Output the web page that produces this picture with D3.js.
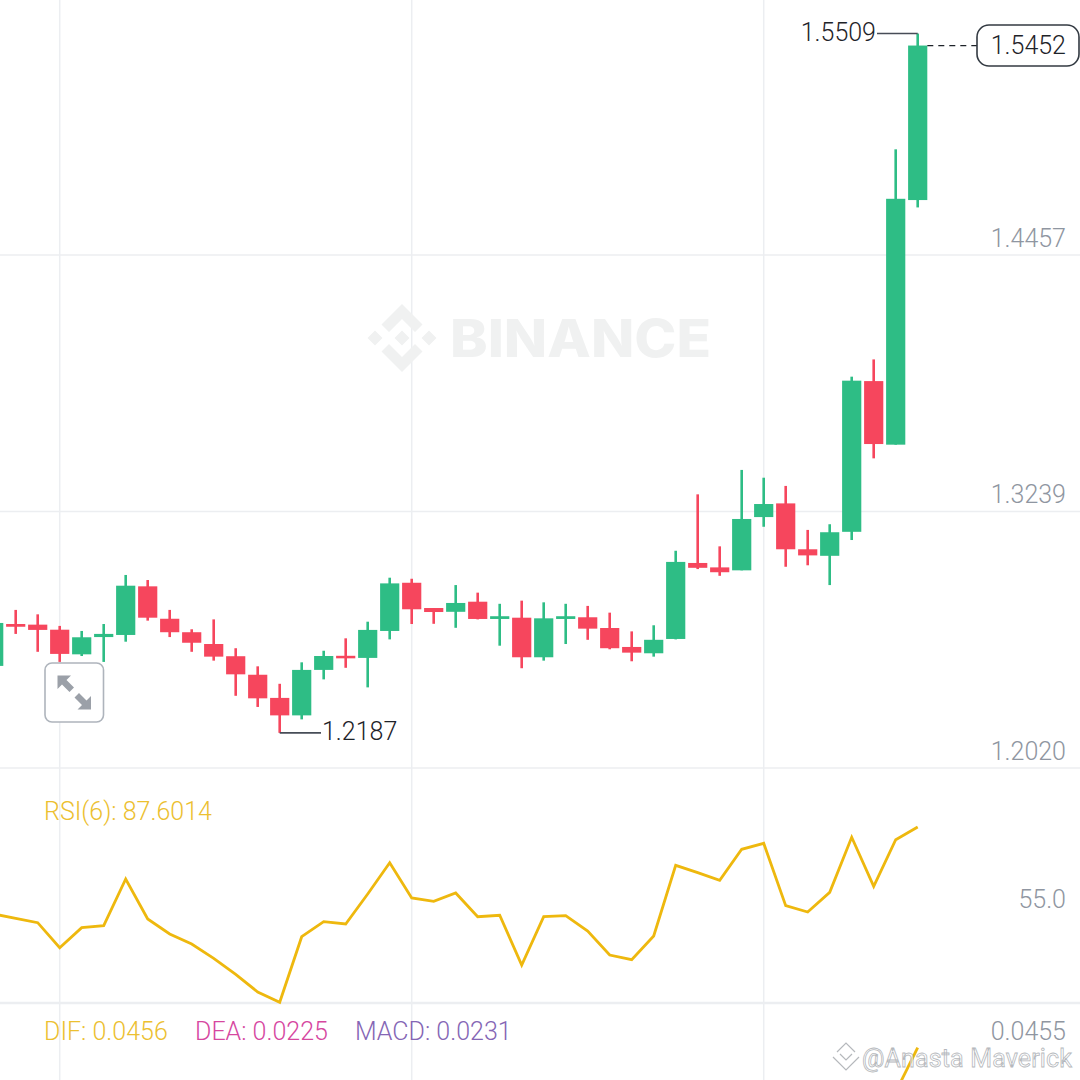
<!DOCTYPE html>
<html>
<head>
<meta charset="utf-8">
<style>
  html, body { margin: 0; padding: 0; background: #fff; overflow: hidden; }
  svg { display: block; }
  text { font-family: Roboto, sans-serif; font-weight: 300; }
</style>
<script src="https://cdn.jsdelivr.net/npm/d3@7"></script>
</head>
<body>
<script>
// candle values, oldest first
const opens = [1.2505,1.2704,1.2701,1.2677,1.2560,1.2642,1.2652,1.2883,1.2729,1.2665,1.2609,1.2551,1.2463,1.2353,1.2270,1.2486,1.2553,1.2543,1.2671,1.2900,1.2780,1.2762,1.2810,1.2728,1.2734,1.2546,1.2728,1.2736,1.2685,1.2595,1.2565,1.2633,1.2994,1.2973,1.2959,1.3212,1.3277,1.3059,1.3028,1.3142,1.3858,1.3556,1.4718];
const highs = [1.2709,1.2771,1.2750,1.2695,1.2671,1.2704,1.2937,1.2913,1.2771,1.2679,1.2726,1.2589,1.2503,1.2420,1.2522,1.2577,1.2636,1.2715,1.2924,1.2919,1.2780,1.2889,1.2853,1.2800,1.2815,1.2807,1.2800,1.2790,1.2758,1.2669,1.2698,1.3052,1.3320,1.3073,1.3436,1.3399,1.3360,1.3151,1.3178,1.3879,1.3961,1.4959,1.5509];
const lows = [1.2505,1.2657,1.2572,1.2524,1.2552,1.2524,1.2620,1.2720,1.2642,1.2572,1.2530,1.2363,1.2310,1.2187,1.2251,1.2441,1.2496,1.2403,1.2631,1.2704,1.2705,1.2686,1.2726,1.2601,1.2494,1.2530,1.2609,1.2629,1.2584,1.2527,1.2549,1.2631,1.2965,1.2933,1.2959,1.3166,1.2976,1.2983,1.2889,1.3103,1.3491,1.3556,1.4683];
const closes = [1.2709,1.2691,1.2676,1.2562,1.2641,1.2657,1.2886,1.2734,1.2665,1.2615,1.2549,1.2465,1.2351,1.2270,1.2486,1.2552,1.2541,1.2676,1.2897,1.2774,1.2761,1.2804,1.2728,1.2741,1.2546,1.2731,1.2741,1.2682,1.2589,1.2568,1.2629,1.2999,1.2971,1.2950,1.3203,1.3274,1.3059,1.3030,1.3140,1.3860,1.3559,1.4724,1.5452];
const rsiValues = [55.73,54.16,52.55,43.39,50.71,51.45,68.55,53.90,48.41,44.74,39.51,33.64,27.16,23.39,47.42,52.91,52.07,63.06,74.52,61.59,60.38,63.42,54.74,55.26,37.05,54.74,55.11,49.51,40.71,38.99,47.67,73.57,70.86,68.08,79.43,81.63,58.77,56.47,63.68,83.83,65.88,82.95,87.60];
// only the tail of DIF shows above the bottom edge
const difIndex = [41,42];
const difValues = [0.0323,0.0456];

const priceTicks = [1.4457,1.3239,1.2020];
const rsiTicks = [55.0];
const macdTicks = [0.0455];
const gridIndex = [3,19,35];
const highLabel = 1.5509, lowLabel = 1.2187, lastPrice = 1.5452;

const GREEN = "#2ebd85", RED = "#f6465d", GRID = "#eceef1", AXIS = "#8f96a1", INK = "#474d57", YELLOW = "#eeb80e";

const svg = d3.select("body").append("svg").attr("width", 1080).attr("height", 1080);

// scales
const x = d3.scaleLinear().domain([0, 42]).range([-6.3, 917.7]);
const y = d3.scaleLinear().domain([1.2020, 1.4457]).range([768, 255]);
const yRsi = d3.scaleLinear().domain([55, 87.6]).range([916, 827]);
const yMacd = d3.scaleLinear().domain([0.0455, 0.0251]).range([1048, 1116]);

// grid
svg.selectAll("line.v").data(gridIndex).join("line").attr("class", "v")
  .attr("x1", d => x(d)).attr("x2", d => x(d)).attr("y1", 0).attr("y2", 1080)
  .attr("stroke", GRID).attr("stroke-width", 1.5);
svg.selectAll("line.h").data(priceTicks).join("line").attr("class", "h")
  .attr("x1", 0).attr("x2", 1080).attr("y1", d => y(d)).attr("y2", d => y(d))
  .attr("stroke", GRID).attr("stroke-width", 1.5);
svg.append("line").attr("x1", 0).attr("x2", 1080).attr("y1", 1003).attr("y2", 1003)
  .attr("stroke", GRID).attr("stroke-width", 2.5);

// BINANCE watermark
const mark = svg.append("g").attr("transform", "translate(402,338)").attr("fill", "#f0f1f1");
[[0,0],[-27,0],[27,0]].forEach(c => {
  mark.append("path").attr("d", `M${c[0]},${c[1]-7.5}L${c[0]+7.5},${c[1]}L${c[0]},${c[1]+7.5}L${c[0]-7.5},${c[1]}Z`);
});
mark.append("path").attr("d", "M0,-34L20.5,-13.5L13,-6L0,-19L-13,-6L-20.5,-13.5Z");
mark.append("path").attr("d", "M0,34L20.5,13.5L13,6L0,19L-13,6L-20.5,13.5Z");
svg.append("text").text("BINANCE").attr("x", 450).attr("y", 357)
  .attr("textLength", 261).attr("lengthAdjust", "spacingAndGlyphs")
  .style("font-family", "Inter, sans-serif").style("font-weight", 800).style("font-size", "52px")
  .attr("fill", "#f0f1f1");

// candles
const candles = svg.append("g").selectAll("g").data(closes).join("g")
  .attr("fill", (d, i) => d >= opens[i] ? GREEN : RED);
candles.append("rect")
  .attr("x", (d, i) => x(i) - 1.3).attr("width", 2.6)
  .attr("y", (d, i) => y(highs[i]))
  .attr("height", (d, i) => y(lows[i]) - y(highs[i]));
candles.append("rect")
  .attr("x", (d, i) => x(i) - 9.6).attr("width", 19.2)
  .attr("y", (d, i) => y(Math.max(opens[i], d)))
  .attr("height", (d, i) => Math.abs(y(opens[i]) - y(d)));

// high / low callouts
const topI = highs.indexOf(highLabel), lowI = lows.indexOf(lowLabel);
svg.append("path").attr("fill", "none").attr("stroke", INK).attr("stroke-width", 1.6)
  .attr("d", `M${x(topI)},${y(highLabel)}H877`);
svg.append("path").attr("fill", "none").attr("stroke", INK).attr("stroke-width", 1.6)
  .attr("d", `M${x(lowI)},${y(lowLabel)}H321`);
svg.append("text").text(highLabel.toFixed(4)).attr("x", 876).attr("y", y(highLabel) + 7)
  .attr("text-anchor", "end").style("font-size", "25px").attr("fill", "#1e2329");
svg.append("text").text(lowLabel.toFixed(4)).attr("x", 322).attr("y", y(lowLabel) + 7.5)
  .style("font-size", "25px").attr("fill", "#1e2329");

// last price tag
svg.append("line").attr("x1", x(42) + 9.6).attr("x2", 977).attr("y1", y(lastPrice)).attr("y2", y(lastPrice))
  .attr("stroke", "#1e2329").attr("stroke-width", 1.2).attr("stroke-dasharray", "6 5");
svg.append("rect").attr("x", 977).attr("y", 25).attr("width", 102).attr("height", 41).attr("rx", 12)
  .attr("fill", "#fff").attr("stroke", "#333a42").attr("stroke-width", 1.6);
svg.append("text").text(lastPrice.toFixed(4)).attr("x", 1066).attr("y", y(lastPrice) + 8.5)
  .attr("text-anchor", "end").style("font-size", "25px").attr("fill", "#1e2329");

// expand button
const btn = svg.append("g");
btn.append("rect").attr("x", 45).attr("y", 663).attr("width", 58.5).attr("height", 59).attr("rx", 7)
  .attr("fill", "#fff").attr("stroke", "#aeb4bc").attr("stroke-width", 1.6);
btn.append("path").attr("fill", "#9ba0a8")
  .attr("d", "M57.5,675.5H71L66.5,680L74,687.5L69.5,692L62,684.5L57.5,689Z");
btn.append("path").attr("fill", "#9ba0a8")
  .attr("d", "M91,709.5H77.5L82,705L74.5,697.5L79,693L86.5,700.5L91,696Z");

// indicator lines
const rsiLine = d3.line().x((d, i) => x(i)).y(d => yRsi(d));
svg.append("path").datum(rsiValues).attr("d", rsiLine)
  .attr("fill", "none").attr("stroke", YELLOW).attr("stroke-width", 2.8).attr("stroke-linejoin", "miter");
const difLine = d3.line().x((d, i) => x(difIndex[i])).y(d => yMacd(d));
svg.append("path").datum(difValues).attr("d", difLine)
  .attr("fill", "none").attr("stroke", YELLOW).attr("stroke-width", 2.8);

// right side axes, labels sit above their level
function sideAxis(scale, ticks, fmt) {
  const g = svg.append("g").attr("transform", "translate(1066,0)")
    .call(d3.axisLeft(scale).tickValues(ticks).tickFormat(d3.format(fmt)).tickSize(0).tickPadding(0));
  g.select(".domain").remove();
  g.selectAll("text").attr("dy", "-9").attr("fill", AXIS).style("font-size", "25px").style("font-family", "Roboto, sans-serif");
}
sideAxis(y, priceTicks, ".4f");
sideAxis(yRsi, rsiTicks, ".1f");
sideAxis(yMacd, macdTicks, ".4f");

// legends
const legends = [
  {t: "RSI(6): 87.6014", x: 44, y: 819.5, c: "#ecc030"},
  {t: "DIF: 0.0456", x: 44, y: 1039.5, c: "#ecc030"},
  {t: "DEA: 0.0225", x: 195, y: 1039.5, c: "#d6479f"},
  {t: "MACD: 0.0231", x: 355, y: 1039.5, c: "#8566b5"}
];
svg.selectAll("text.leg").data(legends).join("text").attr("class", "leg")
  .text(d => d.t).attr("x", d => d.x).attr("y", d => d.y).attr("fill", d => d.c).style("font-size", "25px");

// author watermark, outlined
svg.append("text").text("@Anasta Maverick").attr("x", 862).attr("y", 1067)
  .attr("textLength", 210).style("font-size", "25px").style("font-weight", 400)
  .attr("fill", "#fff").attr("fill-opacity", 0.6).attr("stroke", "#b5b8bc").attr("stroke-width", 0.8);
svg.append("g").attr("transform", "translate(846,1060)").attr("fill", "none").attr("stroke", "#b5b8bc").attr("stroke-width", 1.2)
  .selectAll("path").data(["M-13,-3L0,10L13,-3", "M-6,-6L0,0L6,-6", "M-9,-8L0,-17L9,-8"]).join("path").attr("d", d => d);
</script>
</body>
</html>
